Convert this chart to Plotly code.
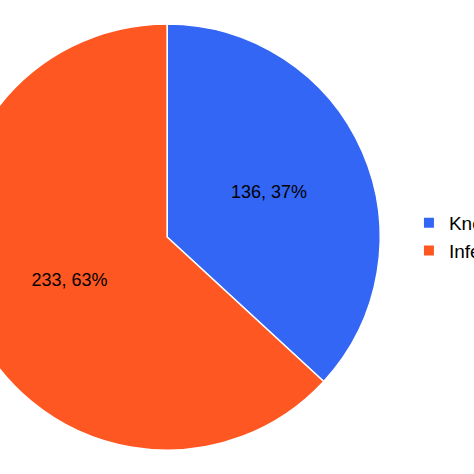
import plotly.graph_objects as go

labels = ["Known", "Inferred"]
values = [136, 233]
colors = ["#3366f5", "#ff5722"]

W = 566
fig = go.Figure(go.Pie(
    labels=labels, values=values, sort=False, direction="clockwise", rotation=0,
    marker=dict(colors=colors, line=dict(color="white", width=1.5)),
    textinfo="value+percent", texttemplate="%{value}, %{percent:.0%}",
    textposition="inside", insidetextorientation="horizontal",
    textfont=dict(color="black", size=18, family="Liberation Sans"),
    domain=dict(x=[0, 456 / W], y=[0.02, 0.98]),
))
fig.update_layout(
    width=W, height=474, margin=dict(l=0, r=0, t=0, b=0),
    paper_bgcolor="white",
    legend=dict(x=0.86, y=0.5, yanchor="middle", bgcolor="rgba(0,0,0,0)",
                font=dict(size=19, color="black", family="Liberation Sans"),
                itemsizing="constant", tracegroupgap=10),
)
fig.write_html("out.html", config={"displayModeBar": False},
               post_script="document.body.style.margin='0';document.body.style.overflow='hidden';var d=document.getElementById('{plot_id}');d.style.marginLeft='-46px';")
